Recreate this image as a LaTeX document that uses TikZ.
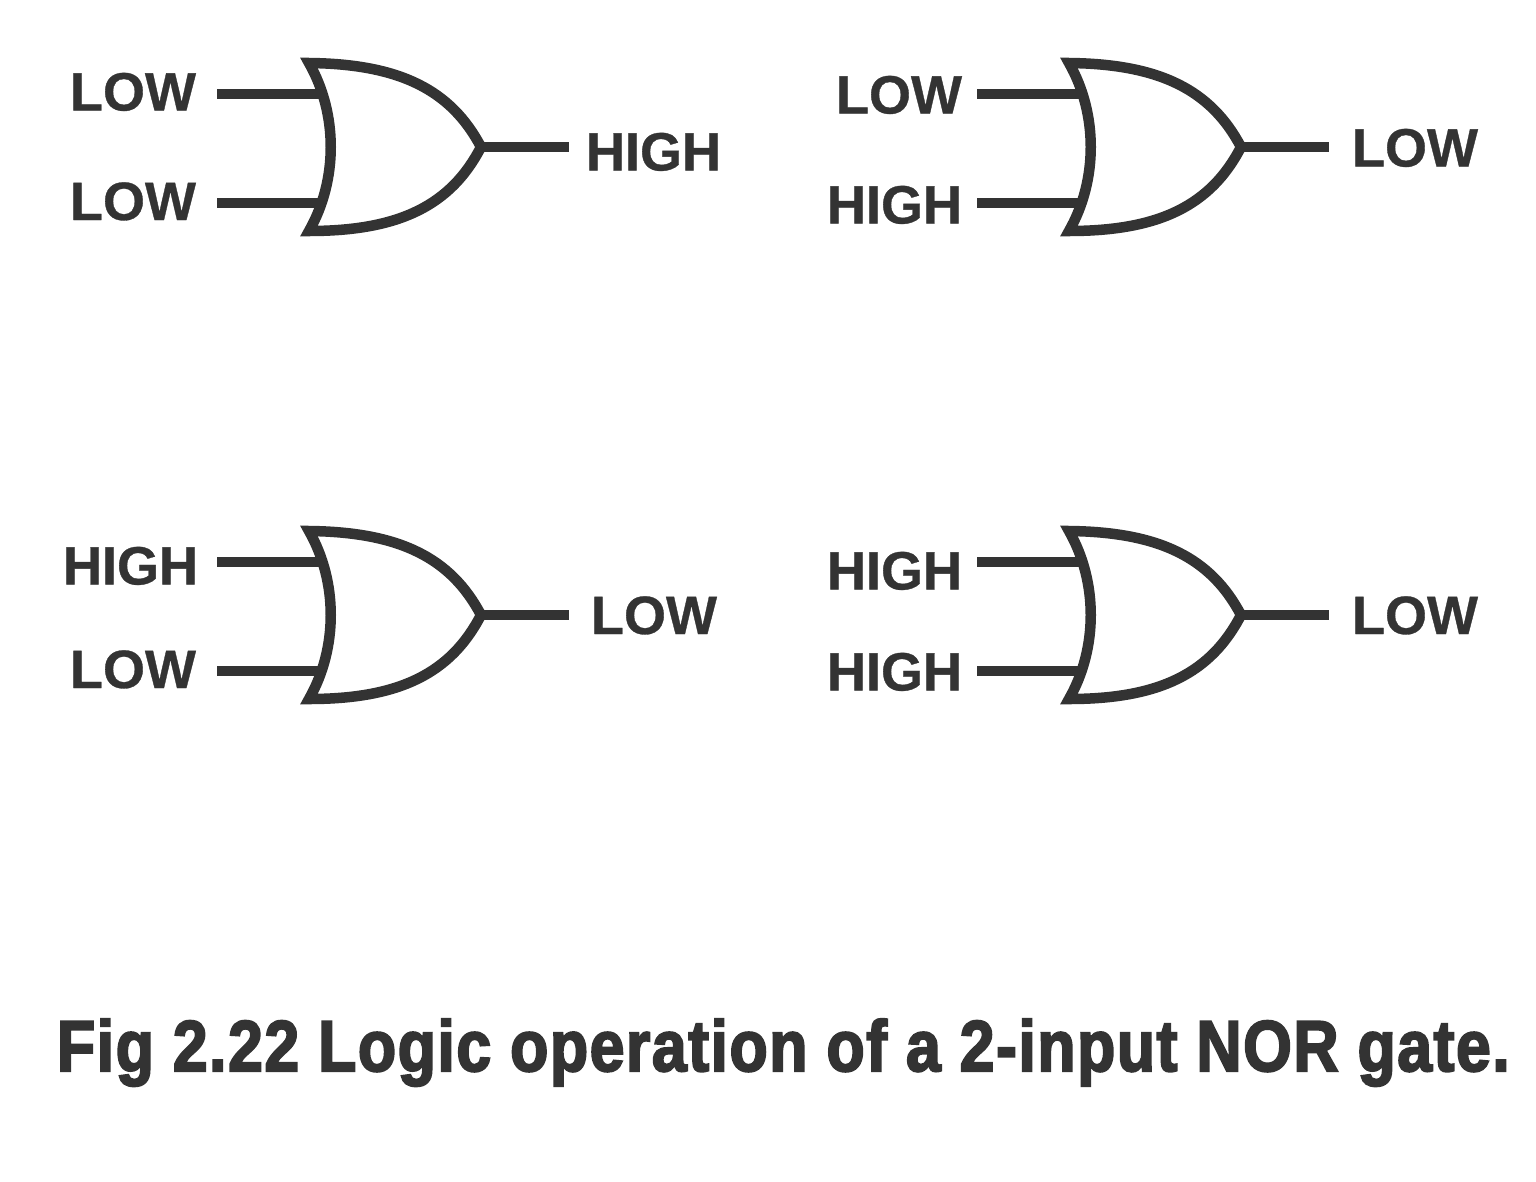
\documentclass[tikz,border=0pt]{standalone}
\usepackage{fontspec}
\setmainfont{Liberation Sans}
\newfontfamily\capfont[FakeBold=3,LetterSpace=2.4]{Liberation Sans Bold}
\newfontfamily\labfont[FakeBold=0.6]{Liberation Sans Bold}
\definecolor{ink}{HTML}{333333}
\tikzset{
  x=1pt,y=-1pt,
  gateline/.style={draw=ink,line width=10.5pt,line join=miter,miter limit=10},
  wire/.style={draw=ink,line width=10pt},
  lab/.style={anchor=base west,inner sep=0pt,outer sep=0pt,text=ink,font=\fontsize{54}{60}\labfont},
  captionlab/.style={anchor=base west,inner sep=0pt,outer sep=0pt,text=ink,font=\fontsize{72}{80}\capfont,xscale=0.87},
  norgate/.pic={
    \coordinate (-a1) at (217,94);
    \coordinate (-b1) at (322,94);
    \coordinate (-a2) at (217,203);
    \coordinate (-b2) at (322,203);
    \coordinate (-tip) at (481,147);
    \coordinate (-out) at (569,147);
    \path[gateline] (309,63) .. controls (400,64) and (451,90) .. (-tip)
      .. controls (451,205) and (400,231) .. (309,231)
      .. controls (338,180) and (338,114) .. cycle;
    \path[wire] (-a1) -- (-b1);
    \path[wire] (-a2) -- (-b2);
    \path[wire] (-tip) -- (-out);
  }
}
\begin{document}
\begin{tikzpicture}
\useasboundingbox (0,0) rectangle (1536,1181);
\pic (ga) at (0,0) {norgate};
\pic (gb) at (760,0) {norgate};
\pic (gc) at (0,468) {norgate};
\pic (gd) at (760,468) {norgate};
\node[lab] (a1) at (70,110.5) {LOW};
\node[lab] (a2) at (70,220) {LOW};
\node[lab] (ao) at (586,170.5) {HIGH};
\node[lab] (b1) at (836,113.5) {LOW};
\node[lab] (b2) at (827,223.5) {HIGH};
\node[lab] (bo) at (1352,166.5) {LOW};
\node[lab] (c1) at (63,584.5) {HIGH};
\node[lab] (c2) at (70,688) {LOW};
\node[lab] (co) at (591,634) {LOW};
\node[lab] (d1) at (827,589.5) {HIGH};
\node[lab] (d2) at (827,690.5) {HIGH};
\node[lab] (do) at (1352,634) {LOW};
\node[captionlab] (cap) at (57,1071) {Fig 2.22 Logic operation of a 2-input NOR gate.};
\end{tikzpicture}
\end{document}
